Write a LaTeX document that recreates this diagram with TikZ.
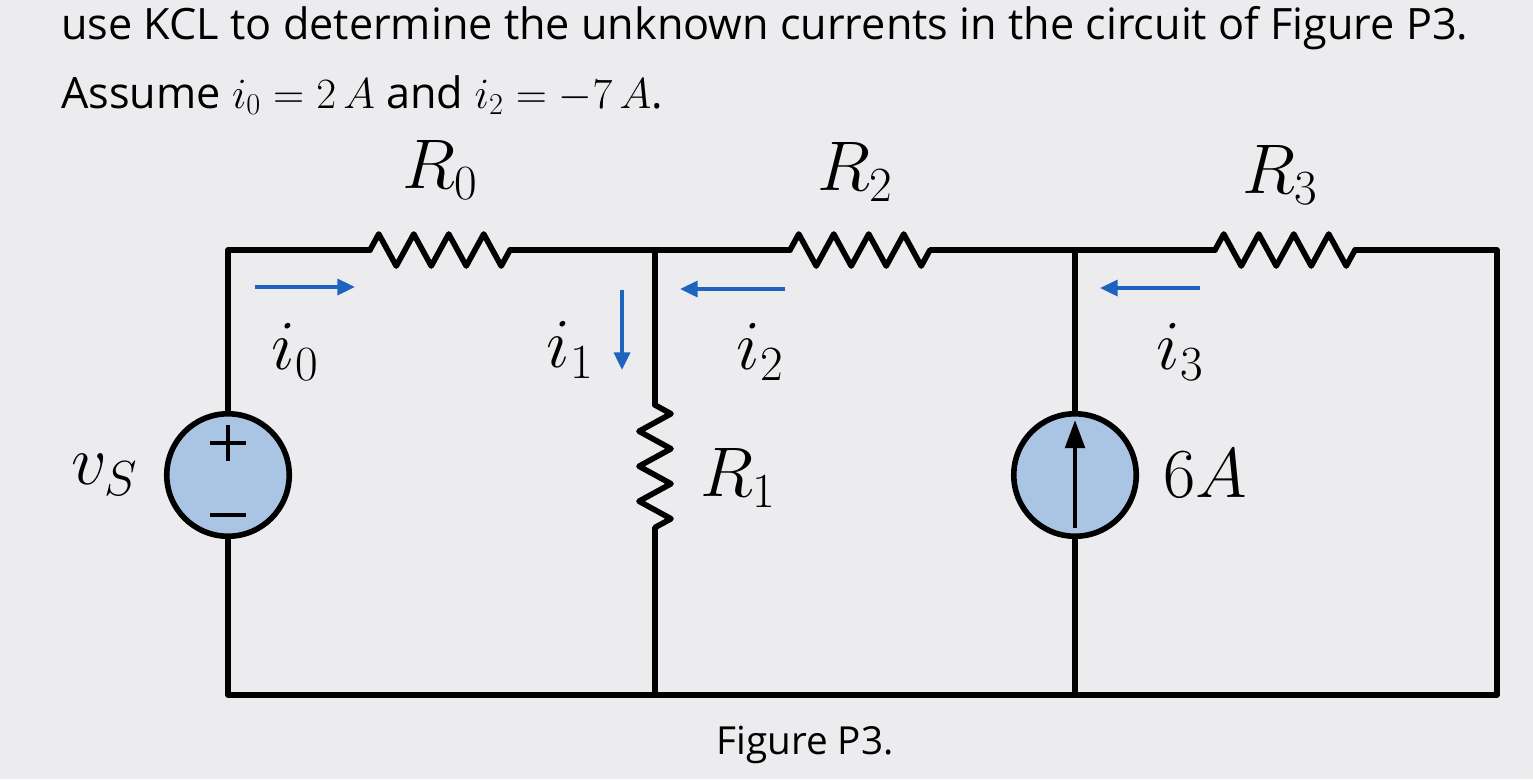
\RequirePackage{fix-cm}
\documentclass[tikz,border=0pt]{standalone}
\usepackage{fontspec}
\setmainfont{Open Sans}
\usetikzlibrary{decorations.pathmorphing,arrows.meta}
\definecolor{bg}{RGB}{236,236,238}
\definecolor{src}{RGB}{170,196,228}
\definecolor{arr}{RGB}{30,100,190}
\begin{document}
\begin{tikzpicture}[x=0.02cm,y=-0.02cm,
  wire/.style={line width=3.2pt,line cap=round,line join=round},
  res/.style={wire,decorate,decoration={zigzag,amplitude=0.32cm,segment length=0.7cm}},
  cur/.style={arr,line width=2.2pt,-{Triangle[length=10pt,width=9pt]}},
  lab/.style={font=\fontsize{40}{44}\selectfont},
  txt/.style={anchor=west,font=\fontsize{24.6}{28}\selectfont}]
\fill[bg] (0,0) rectangle (1533,779);
\useasboundingbox (0,0) rectangle (1533,779);
\node[txt] (t1) at (55,28) {use KCL to determine the unknown currents in the circuit of Figure P3.};
\node[txt] (t2) at (55,95) {Assume $i_0=2\,A$ and $i_2=-7\,A$.};
% coordinates
\coordinate (TL) at (228,250); \coordinate (TM) at (655,250);
\coordinate (TR) at (1075,250); \coordinate (TE) at (1497,250);
\coordinate (BL) at (228,695); \coordinate (BM) at (655,695);
\coordinate (BR) at (1075,695); \coordinate (BE) at (1497,695);
\coordinate (r0a) at (370,250); \coordinate (r0b) at (510,250);
\coordinate (r2a) at (790,250); \coordinate (r2b) at (935,250);
\coordinate (r3a) at (1215,250); \coordinate (r3b) at (1355,250);
\coordinate (r1a) at (655,405); \coordinate (r1b) at (655,530);
\node[circle,draw,line width=3.2pt,fill=src,minimum size=2.45cm] (vs) at (228,475) {};
\node[circle,draw,line width=3.2pt,fill=src,minimum size=2.45cm] (is) at (1075,475) {};
% wires
\draw[wire] (vs.north) -- (TL) -- (r0a);
\draw[res] (r0a) -- (r0b);
\draw[wire] (r0b) -- (TM) -- (r2a);
\draw[res] (r2a) -- (r2b);
\draw[wire] (r2b) -- (TR) -- (r3a);
\draw[res] (r3a) -- (r3b);
\draw[wire] (r3b) -- (TE) -- (BE) -- (BL) -- (vs.south);
\draw[wire] (TM) -- (r1a);
\draw[res] (r1a) -- (r1b);
\draw[wire] (r1b) -- (BM);
\draw[wire] (TR) -- (is.north);
\draw[wire] (is.south) -- (BR);
% source symbols
\coordinate (pc) at (228,443);
\draw[line width=2pt] ([xshift=-0.36cm]pc) -- ([xshift=0.36cm]pc) ([yshift=-0.36cm]pc) -- ([yshift=0.36cm]pc);
\coordinate (mc) at (228,515);
\draw[line width=2pt] ([xshift=-0.36cm]mc) -- ([xshift=0.36cm]mc);
\coordinate (ia) at (1075,528); \coordinate (ib) at (1075,420);
\draw[line width=2.5pt,-{Triangle[length=16pt,width=11pt]}] (ia) -- (ib);
% currents
\coordinate (a0) at (255,287); \coordinate (b0) at (355,287);
\draw[cur] (a0) -- (b0);
\coordinate (a1) at (622,290); \coordinate (b1) at (622,370);
\draw[cur] (a1) -- (b1);
\coordinate (a2) at (785,289); \coordinate (b2) at (680,289);
\draw[cur] (a2) -- (b2);
\coordinate (a3) at (1200,288); \coordinate (b3) at (1100,288);
\draw[cur] (a3) -- (b3);
% labels
\node[lab] (lR0) at (440,170) {$R_0$};
\node[lab] (lR2) at (855,172) {$R_2$};
\node[lab] (lR3) at (1280,175) {$R_3$};
\node[lab] (lR1) at (738,478) {$R_1$};
\node[lab] (lvs) at (105,475) {$v_S$};
\node[lab] (l6) at (1205,473) {$6A$};
\node[lab] (li0) at (295,352) {$i_0$};
\node[lab] (li1) at (570,350) {$i_1$};
\node[lab] (li2) at (760,352) {$i_2$};
\node[lab] (li3) at (1180,352) {$i_3$};
\node[font=\fontsize{22}{26}\selectfont] (fig) at (805,745) {Figure P3.};
\end{tikzpicture}
\end{document}
